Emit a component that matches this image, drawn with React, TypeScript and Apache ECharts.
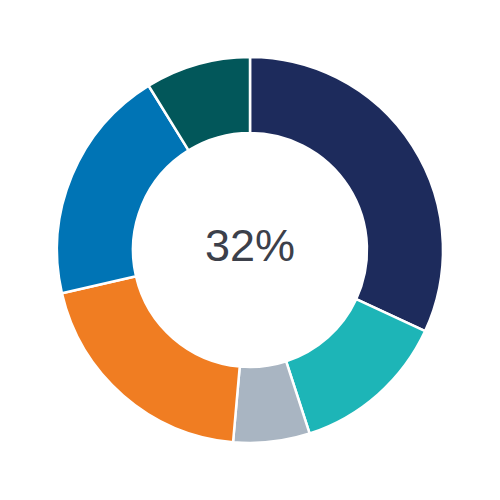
import React, { useEffect, useRef } from "react";
import * as echarts from "echarts";

const categories = ["A", "B", "C", "D", "E", "F"];
const values = [31.9, 13.1, 6.4, 20.0, 19.8, 8.8];
const colors = ["#1d2b5c", "#1db5b7", "#a9b5c2", "#f07d22", "#0074b5", "#02575a"];
const centerLabel = "32%";

export default function App() {
  const ref = useRef<HTMLDivElement>(null);
  useEffect(() => {
    if (!ref.current) return;
    const chart = echarts.init(ref.current, undefined, { renderer: "svg" });
    chart.setOption({
      animation: false,
      backgroundColor: "#ffffff",
      graphic: [
        {
          type: "text",
          left: "center",
          top: 223,
          style: {
            text: centerLabel,
            fontSize: 45,
            fontFamily: "Liberation Sans, Arial, sans-serif",
            fill: "#3c404a",
          },
        },
      ],
      series: [
        {
          type: "pie",
          center: [250, 250],
          radius: [117, 193],
          startAngle: 90,
          clockwise: true,
          avoidLabelOverlap: false,
          label: { show: false },
          labelLine: { show: false },
          emphasis: { disabled: true },
          itemStyle: { borderColor: "#ffffff", borderWidth: 2.5 },
          data: categories.map((c, i) => ({
            name: c,
            value: values[i],
            itemStyle: { color: colors[i] },
          })),
        },
      ],
    });
    return () => chart.dispose();
  }, []);
  return (
    <div
      ref={ref}
      style={{ position: "fixed", left: 0, top: 0, width: 500, height: 500 }}
    />
  );
}
